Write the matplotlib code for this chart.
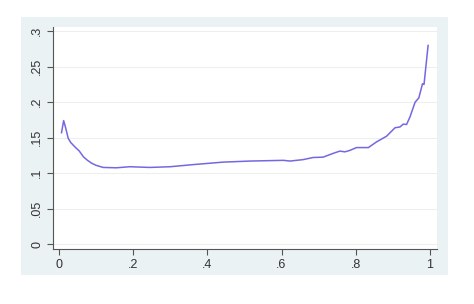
import matplotlib
matplotlib.use("Agg")
import matplotlib.pyplot as plt

x_vals = [0.007, 0.0127, 0.018, 0.025, 0.032, 0.043, 0.055, 0.066, 0.077, 0.088,
          0.100, 0.119, 0.155, 0.191,
          0.245, 0.30, 0.362, 0.443, 0.515, 0.56, 0.605, 0.623, 0.658, 0.685,
          0.712, 0.74, 0.757, 0.771, 0.784, 0.802, 0.834, 0.856, 0.883, 0.906,
          0.919, 0.928, 0.937, 0.946, 0.96, 0.970, 0.980, 0.984, 0.989, 0.995]
y_vals = [0.157, 0.174, 0.164, 0.149, 0.143, 0.137, 0.131, 0.123, 0.118, 0.114,
          0.111, 0.108, 0.1075, 0.109,
          0.108, 0.109, 0.112, 0.1155, 0.117, 0.1175, 0.118, 0.117, 0.119, 0.122,
          0.1225, 0.128, 0.131, 0.130, 0.132, 0.136, 0.136, 0.144, 0.152, 0.164,
          0.165, 0.169, 0.1686, 0.179, 0.200, 0.206, 0.226, 0.225, 0.250, 0.280]

x_ticks = [0, 0.2, 0.4, 0.6, 0.8, 1.0]
x_labels = ["0", ".2", ".4", ".6", ".8", "1"]
y_ticks = [0, 0.05, 0.1, 0.15, 0.2, 0.25, 0.3]
y_labels = ["0", ".05", ".1", ".15", ".2", ".25", ".3"]

plt.rcParams["font.family"] = ["Liberation Sans", "DejaVu Sans"]

W, H = 474, 304
fig = plt.figure(figsize=(W / 100, H / 100), dpi=100)
fig.patch.set_facecolor("white")

bg = fig.add_axes([21 / W, 1 - 275 / H, (448 - 21) / W, (275 - 17) / H], zorder=0)
bg.set_facecolor("#eaf2f3")
bg.set_xticks([])
bg.set_yticks([])
for s in bg.spines.values():
    s.set_visible(False)

ax = fig.add_axes([53 / W, 1 - 249 / H, (437 - 53) / W, (249 - 27) / H], zorder=1)
ax.set_facecolor("white")
ax.plot(x_vals, y_vals, color="#7468e0", lw=1.1)
ax.set_xlim(-0.016, 1.019)
ax.set_ylim(-0.007, 0.306)
ax.set_xticks(x_ticks)
ax.set_xticklabels(x_labels)
ax.set_yticks(y_ticks)
ax.set_yticklabels(y_labels, rotation=90, va="center")
for s in ["top", "right"]:
    ax.spines[s].set_visible(False)
for s in ["left", "bottom"]:
    ax.spines[s].set_color("#555555")
    ax.spines[s].set_linewidth(0.8)
ax.tick_params(length=4, width=0.8, color="#555555", labelsize=9, labelcolor="#333333", pad=3)
ax.yaxis.grid(True, color="#eeeeee", lw=0.8)
ax.set_axisbelow(True)

fig.savefig("out.png", dpi=100, facecolor="white")
